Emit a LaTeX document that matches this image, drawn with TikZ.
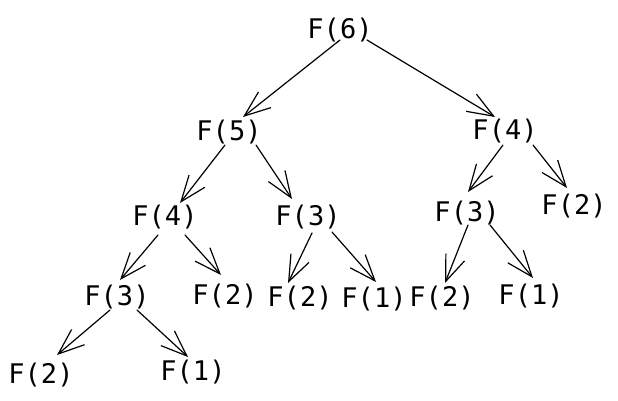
\documentclass[tikz,border=0pt]{standalone}
\usepackage{fontspec}
\setmonofont{DejaVu Sans Mono}
\usetikzlibrary{arrows.meta, calc}

\begin{document}
\begin{tikzpicture}[x=1pt, y=-1pt, >={Straight Barb[length=26pt, width=20pt]},
    call/.style={font=\ttfamily\fontsize{27}{31}\selectfont, inner sep=0pt,
        text height=20pt, text depth=3.5pt},
    rec/.style={->, line width=1.2pt, line cap=round, line join=round}]
    \useasboundingbox (0,0) rectangle (618,401);

    % Call tree
    \node[call] (f6) at (340,30) {F(6)};
    \node[call] (f5) at (229,132) {F(5)};
    \node[call] (f4r) at (505,131) {F(4)};
    \node[call] (f4l) at (165,217) {F(4)};
    \node[call] (f3m) at (308,217) {F(3)};
    \node[call] (f3r) at (467,213) {F(3)};
    \node[call] (f2a) at (574,206) {F(2)};
    \node[call] (f3l) at (117,297) {F(3)};
    \node[call] (f2b) at (225,296) {F(2)};
    \node[call] (f2d) at (300,298) {F(2)};
    \node[call] (f1b) at (374,299) {F(1)};
    \node[call] (f2e) at (442,298) {F(2)};
    \node[call] (f1c) at (531,296) {F(1)};
    \node[call] (f2c) at (41,375) {F(2)};
    \node[call] (f1a) at (193,372) {F(1)};

    % Recursive calls
    \draw[rec] ($(f6)+(0,10)$) -- ($(f5)+(14,-15)$);
    \draw[rec] ($(f6)+(27,10)$) -- ($(f4r)+(-10,-14)$);
    \draw[rec] ($(f5)+(-4,13)$) -- ($(f4l)+(15,-14)$);
    \draw[rec] ($(f5)+(27,13)$) -- ($(f3m)+(-16,-18)$);
    \draw[rec] ($(f4r)+(-2,14)$) -- ($(f3r)+(1,-21)$);
    \draw[rec] ($(f4r)+(28,14)$) -- ($(f2a)+(-7,-18)$);
    \draw[rec] ($(f4l)+(-7,18)$) -- ($(f3l)+(3,-17)$);
    \draw[rec] ($(f4l)+(20,18)$) -- ($(f2b)+(-4,-21)$);
    \draw[rec] ($(f3l)+(-7,13)$) -- ($(f2c)+(16,-20)$);
    \draw[rec] ($(f3l)+(20,13)$) -- ($(f1a)+(-5,-15)$);
    \draw[rec] ($(f3m)+(4,16)$) -- ($(f2d)+(-12,-15)$);
    \draw[rec] ($(f3m)+(24,15)$) -- ($(f1b)+(2,-17)$);
    \draw[rec] ($(f3r)+(1,12)$) -- ($(f2e)+(3,-15)$);
    \draw[rec] ($(f3r)+(23,12)$) -- ($(f1c)+(2,-18)$);
\end{tikzpicture}
\end{document}
